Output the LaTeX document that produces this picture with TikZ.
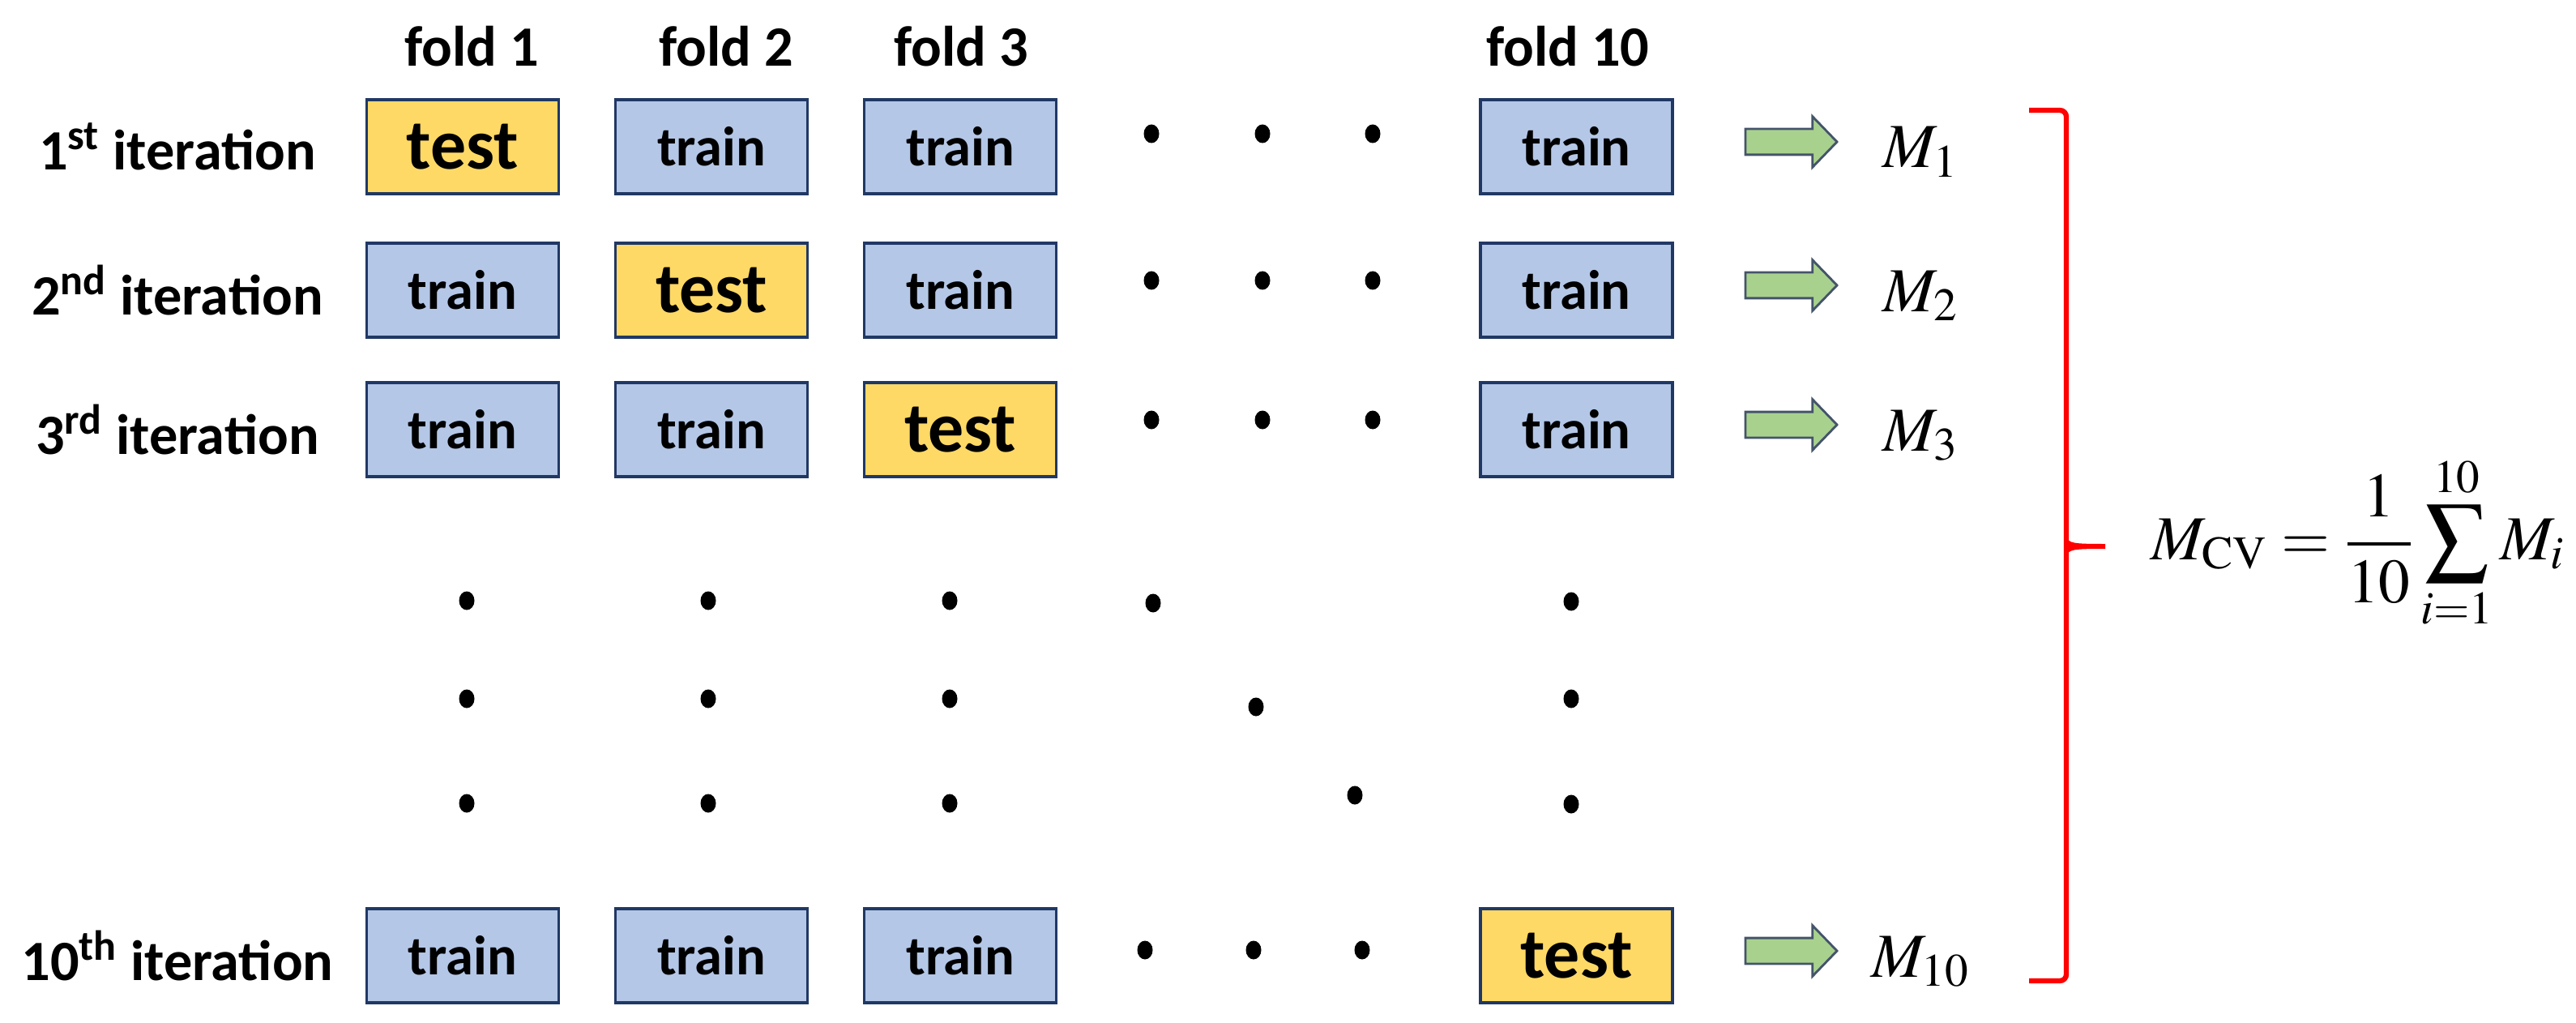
\documentclass[tikz,border=0pt]{standalone}
\usepackage{mathptmx}
\usepackage[no-math]{fontspec}
\setmainfont{Carlito}
\usepackage{xcolor}
\definecolor{trainblue}{RGB}{180,199,231}
\definecolor{testyellow}{RGB}{255,217,102}
\definecolor{boxline}{RGB}{32,56,100}
\definecolor{arrowgreen}{RGB}{169,209,142}
\definecolor{arrowline}{RGB}{68,84,106}
\usepackage{tikz}
\usetikzlibrary{positioning,calc,shapes.geometric,shapes.arrows}

\begin{document}
\begin{tikzpicture}[node distance=0.67cm, trainbox/.style={draw=boxline, line width=0.9pt, fill=trainblue, minimum width=2.37cm, minimum height=1.16cm, inner sep=0pt, font=\fontsize{19.5}{23}\selectfont\bfseries}, testbox/.style={trainbox, fill=testyellow, font=\fontsize{25}{30}\selectfont\bfseries}, foldlab/.style={anchor=base, font=\fontsize{20}{24}\selectfont\bfseries}, iterlab/.style={font=\fontsize{20}{24}\selectfont\bfseries}, greenarrow/.style={single arrow, draw=arrowline, line width=0.8pt, fill=arrowgreen, minimum height=1.13cm, inner xsep=0pt, inner ysep=0.145cm, single arrow head extend=0.155cm, single arrow tip angle=92}, mlab/.style={anchor=base, font=\fontsize{22}{26}\selectfont}, bigdot/.style={ellipse, fill=black, minimum width=0.19cm, minimum height=0.23cm, inner sep=0pt}, redbrace/.style={draw=red, line width=1.8pt, rounded corners=0.08cm}]

\useasboundingbox (0,0) rectangle (31.79,-12.62);

% headers
\node[foldlab] (h1) at (5.82,-0.82) {fold 1};
\node[foldlab] (h2) at (8.96,-0.82) {fold 2};
\node[foldlab] (h3) at (11.86,-0.82) {fold 3};
\node[foldlab] (h10) at (19.35,-0.82) {fold 10};

% 1st iteration
\node[iterlab] (l1) at (2.19,-1.81) {1\textsuperscript{st} iteration};
\node[testbox] (r1f1) at (5.71,-1.81) {test};
\node[trainbox] (r1f2) [right=of r1f1] {train};
\node[trainbox] (r1f3) [right=of r1f2] {train};
\node[trainbox] (r1f10) [right=5.2cm of r1f3] {train};
\node[greenarrow, right=0.87cm of r1f10, anchor=tail, yshift=0.06cm] (a1) {};
\node[mlab] (m1) at (23.70,-2.07) {$M_1$};
\node[bigdot] (d11) at (14.21,-1.65) {};
\node[bigdot] (d12) at (15.58,-1.65) {};
\node[bigdot] (d13) at (16.94,-1.65) {};

% 2nd iteration
\node[iterlab] (l2) at (2.19,-3.58) {2\textsuperscript{nd} iteration};
\node[trainbox] (r2f1) at (5.71,-3.58) {train};
\node[testbox] (r2f2) [right=of r2f1] {test};
\node[trainbox] (r2f3) [right=of r2f2] {train};
\node[trainbox] (r2f10) [right=5.2cm of r2f3] {train};
\node[greenarrow, right=0.87cm of r2f10, anchor=tail, yshift=0.06cm] (a2) {};
\node[mlab] (m2) at (23.70,-3.84) {$M_2$};
\node[bigdot] (d21) at (14.21,-3.46) {};
\node[bigdot] (d22) at (15.58,-3.46) {};
\node[bigdot] (d23) at (16.94,-3.46) {};

% 3rd iteration
\node[iterlab] (l3) at (2.19,-5.30) {3\textsuperscript{rd} iteration};
\node[trainbox] (r3f1) at (5.71,-5.30) {train};
\node[trainbox] (r3f2) [right=of r3f1] {train};
\node[testbox] (r3f3) [right=of r3f2] {test};
\node[trainbox] (r3f10) [right=5.2cm of r3f3] {train};
\node[greenarrow, right=0.87cm of r3f10, anchor=tail, yshift=0.06cm] (a3) {};
\node[mlab] (m3) at (23.70,-5.56) {$M_3$};
\node[bigdot] (d31) at (14.21,-5.18) {};
\node[bigdot] (d32) at (15.58,-5.18) {};
\node[bigdot] (d33) at (16.94,-5.18) {};

% vertical dots
\node[bigdot] (v11) at (5.76,-7.41) {};
\node[bigdot] (v12) at (5.76,-8.62) {};
\node[bigdot] (v13) at (5.76,-9.91) {};
\node[bigdot] (v21) at (8.74,-7.41) {};
\node[bigdot] (v22) at (8.74,-8.62) {};
\node[bigdot] (v23) at (8.74,-9.91) {};
\node[bigdot] (v31) at (11.72,-7.41) {};
\node[bigdot] (v32) at (11.72,-8.62) {};
\node[bigdot] (v33) at (11.72,-9.91) {};
\node[bigdot] (v41) at (14.23,-7.44) {};
\node[bigdot] (v42) at (15.50,-8.72) {};
\node[bigdot] (v43) at (16.72,-9.81) {};
\node[bigdot] (v51) at (19.39,-7.42) {};
\node[bigdot] (v52) at (19.39,-8.62) {};
\node[bigdot] (v53) at (19.39,-9.92) {};

% 10th iteration
\node[iterlab] (l10) at (2.19,-11.79) {10\textsuperscript{th} iteration};
\node[trainbox] (r10f1) at (5.71,-11.79) {train};
\node[trainbox] (r10f2) [right=of r10f1] {train};
\node[trainbox] (r10f3) [right=of r10f2] {train};
\node[testbox] (r10f10) [right=5.2cm of r10f3] {test};
\node[greenarrow, right=0.87cm of r10f10, anchor=tail, yshift=0.06cm] (a10) {};
\node[mlab] (m10) at (23.70,-12.05) {$M_{10}$};
\node[bigdot] (d101) at (14.13,-11.72) {};
\node[bigdot] (d102) at (15.47,-11.72) {};
\node[bigdot] (d103) at (16.81,-11.72) {};

% brace and average
\draw[redbrace] (25.04,-1.36) -- (25.50,-1.36) -- (25.50,-12.10) -- (25.04,-12.10);
\fill[red] (25.50,-6.62) .. controls (25.53,-6.70) and (25.57,-6.71) .. (25.98,-6.71) -- (25.98,-6.77) .. controls (25.57,-6.77) and (25.53,-6.78) .. (25.50,-6.86) -- cycle;
\node[font=\fontsize{22}{26}\selectfont] (cv) at (29.10,-6.70) {$\displaystyle M_{\mathrm{CV}}=\frac{1}{10}\sum_{i=1}^{10}M_i$};
\end{tikzpicture}
\end{document}
